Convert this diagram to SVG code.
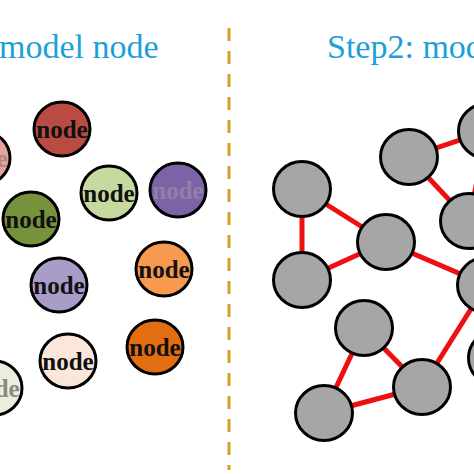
<svg xmlns="http://www.w3.org/2000/svg" width="474" height="474" viewBox="0 0 474 474">
<style>
.title{font-family:"Liberation Serif","Times New Roman",serif;font-size:34px;fill:#1ca0d8}
.n{stroke:#000;stroke-width:3}
.g{fill:#a6a6a6;stroke:#000;stroke-width:3}
.lbl{font-family:"Liberation Serif","Times New Roman",serif;font-size:25px;font-weight:bold;text-anchor:middle;fill:#111}
.edge{stroke:#ee1010;stroke-width:5;stroke-linecap:butt}
</style>
<rect width="474" height="474" fill="#fff"/>
<text class="title" x="-1" y="58">model node</text>
<text class="title" x="327" y="58">Step2: model node</text>
<line x1="229" y1="28" x2="229" y2="470" stroke="#d4a025" stroke-width="3" stroke-dasharray="13,10"/>

<g id="left-nodes">
<g id="n-pink"><ellipse class="n" cx="-18" cy="158" rx="28" ry="27" fill="#e6a39c"/><text class="lbl" x="-18" y="167" style="fill:#b08580">node</text></g>
<g id="n-red"><ellipse class="n" cx="62" cy="129" rx="28" ry="27" fill="#b94b43"/><text class="lbl" x="62" y="138">node</text></g>
<g id="n-lgreen"><ellipse class="n" cx="109" cy="193" rx="28" ry="27" fill="#c6daa0"/><text class="lbl" x="109" y="202">node</text></g>
<g id="n-purple"><ellipse class="n" cx="178" cy="190" rx="28" ry="27" fill="#7e62a6"/><text class="lbl" x="178" y="199" style="fill:#8f80a8">node</text></g>
<g id="n-olive"><ellipse class="n" cx="31" cy="219" rx="28" ry="27" fill="#76923c"/><text class="lbl" x="31" y="228">node</text></g>
<g id="n-orange"><ellipse class="n" cx="164" cy="269" rx="28" ry="27" fill="#f7994e"/><text class="lbl" x="164" y="278">node</text></g>
<g id="n-lavender"><ellipse class="n" cx="59" cy="285" rx="28" ry="27" fill="#aa9cc8"/><text class="lbl" x="59" y="294">node</text></g>
<g id="n-dorange"><ellipse class="n" cx="155" cy="347" rx="28" ry="27" fill="#e36e12"/><text class="lbl" x="155" y="356">node</text></g>
<g id="n-peach"><ellipse class="n" cx="68" cy="361" rx="28" ry="27" fill="#fbe7da"/><text class="lbl" x="68" y="370">node</text></g>
<g id="n-pale"><ellipse class="n" cx="-6" cy="388" rx="28" ry="27" fill="#e9efdc"/><text class="lbl" x="-6" y="397" style="fill:#8a8a82">node</text></g>
</g>

<g id="connectors">
<line class="edge" x1="302" y1="189" x2="386" y2="242"/>
<line class="edge" x1="302" y1="189" x2="302" y2="280"/>
<line class="edge" x1="302" y1="280" x2="386" y2="242"/>
<line class="edge" x1="386" y1="242" x2="486" y2="285"/>
<line class="edge" x1="409" y1="157" x2="487" y2="131"/>
<line class="edge" x1="409" y1="157" x2="469" y2="221"/>
<line class="edge" x1="487" y1="131" x2="469" y2="221"/>
<line class="edge" x1="486" y1="285" x2="422" y2="387"/>
<line class="edge" x1="364" y1="328" x2="422" y2="387"/>
<line class="edge" x1="364" y1="328" x2="324" y2="413"/>
<line class="edge" x1="324" y1="413" x2="422" y2="387"/>
</g>

<g id="right-nodes">
<g id="A"><ellipse class="g" cx="302" cy="189" rx="28.5" ry="27.5"/></g>
<g id="B"><ellipse class="g" cx="386" cy="242" rx="28.5" ry="27.5"/></g>
<g id="C"><ellipse class="g" cx="409" cy="157" rx="28.5" ry="27.5"/></g>
<g id="D"><ellipse class="g" cx="302" cy="280" rx="28.5" ry="27.5"/></g>
<g id="E"><ellipse class="g" cx="487" cy="131" rx="28.5" ry="27.5"/></g>
<g id="F"><ellipse class="g" cx="469" cy="221" rx="28.5" ry="27.5"/></g>
<g id="G"><ellipse class="g" cx="486" cy="285" rx="28.5" ry="27.5"/></g>
<g id="H"><ellipse class="g" cx="364" cy="328" rx="28.5" ry="27.5"/></g>
<g id="I"><ellipse class="g" cx="422" cy="387" rx="28.5" ry="27.5"/></g>
<g id="J"><ellipse class="g" cx="324" cy="413" rx="28.5" ry="27.5"/></g>
<g id="K"><ellipse class="g" cx="497" cy="358" rx="28.5" ry="27.5"/></g>
</g>
</svg>
